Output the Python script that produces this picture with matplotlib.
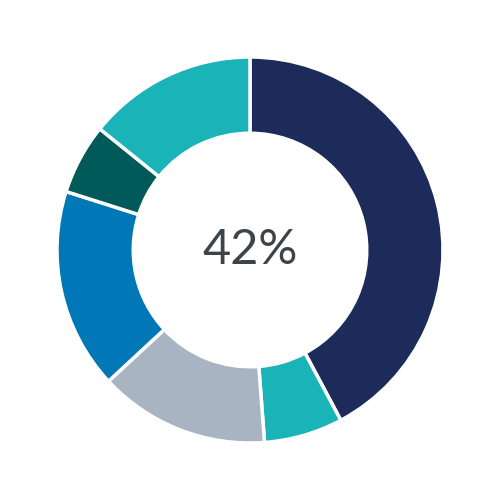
import matplotlib
matplotlib.use("Agg")
import matplotlib.pyplot as plt

labels = ["A", "B", "C", "D", "E", "F"]
values = [42.2, 6.6, 14.3, 16.8, 5.9, 14.2]
colors = ["#1c2b5a", "#1ab3b7", "#a9b4c2", "#0077b6", "#005a5a", "#1ab3b7"]
center_text = "42%"

fig = plt.figure(figsize=(5, 5), dpi=100)
ax = fig.add_axes([0, 0, 1, 1])
ax.pie(values, colors=colors, startangle=90, counterclock=False, radius=1.0,
       wedgeprops=dict(width=0.395, edgecolor="white", linewidth=2.5))
lim = 250 / 193
ax.set_xlim(-lim, lim)
ax.set_ylim(-lim, lim)
ax.set_aspect("equal")
ax.axis("off")
ax.text(0, 0, center_text, ha="center", va="center", fontsize=35,
        color="#3d4449", family=["Lato", "DejaVu Sans"])
fig.savefig("out.png", dpi=100)
